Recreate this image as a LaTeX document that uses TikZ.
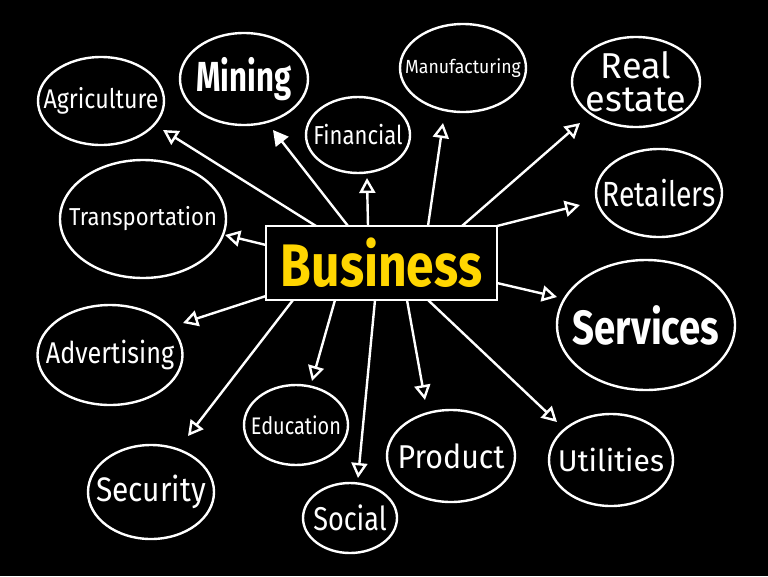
\documentclass[tikz,border=0pt]{standalone}
\usepackage{fontspec}
\usepackage{graphicx}
\setmainfont{Fira Sans}
\usetikzlibrary{shapes.geometric,arrows.meta}
\definecolor{bizyellow}{RGB}{255,214,0}
\newcommand{\lab}[3]{\scalebox{#2}[1]{\fontsize{#1}{#1}\selectfont #3}}
\begin{document}
\begin{tikzpicture}[x=1pt,y=-1pt,
  bubble/.style={draw=white, line width=2.4pt, ellipse, inner sep=0pt, outer sep=0pt},
  lbl/.style={text=white, inner sep=0pt, align=center},
  link/.style={draw=white, line width=2.4pt, -{Triangle[open,length=15pt,width=16pt]}},
  linkfull/.style={draw=white, line width=2.4pt, -{Triangle[length=15pt,width=16pt]}},
  bizbox/.style={draw=white, line width=2.4pt, fill=black, minimum width=231pt, minimum height=74pt, inner sep=0pt, outer sep=0pt, text=bizyellow}
]
\fill[black] (0,0) rectangle (768,576);
\useasboundingbox (0,0) rectangle (768,576);

% bubbles
\node[bubble, minimum width=126pt, minimum height=88pt, label={[lbl]center:\lab{27}{0.86}{Agriculture}}] (agri) at (101,101) {};
\node[bubble, minimum width=128pt, minimum height=92pt, label={[lbl,font=\bfseries]center:\lab{42}{0.74}{Mining}}] (mining) at (244,79) {};
\node[bubble, minimum width=104pt, minimum height=76pt, label={[lbl]center:\lab{26}{0.85}{Financial}}] (fin) at (358,135) {};
\node[bubble, minimum width=126pt, minimum height=88pt, label={[lbl]center:\lab{19}{0.93}{Manufacturing}}] (manu) at (463,68) {};
\node[bubble, minimum width=128pt, minimum height=90pt, label={[lbl,font=\fontsize{36}{33}\selectfont]center:Real\\estate}] (real) at (636,82) {};
\node[bubble, minimum width=126pt, minimum height=88pt, label={[lbl]center:\lab{35}{0.81}{Retailers}}] (retail) at (659,193) {};
\node[bubble, minimum width=166pt, minimum height=118pt, label={[lbl]center:\lab{24.5}{0.9}{Transportation}}] (trans) at (143,219) {};
\node[bubble, minimum width=178pt, minimum height=130pt, label={[lbl,font=\bfseries]center:\lab{48}{0.8}{Services}}] (serv) at (646,325) {};
\node[bubble, minimum width=145pt, minimum height=100pt, label={[lbl]center:\lab{30}{0.84}{Advertising}}] (adv) at (110,355) {};
\node[bubble, minimum width=104pt, minimum height=80pt, label={[lbl]center:\lab{24}{0.83}{Education}}] (edu) at (296,425) {};
\node[bubble, minimum width=128pt, minimum height=92pt, label={[lbl]center:\lab{33}{0.92}{Product}}] (prod) at (451,456) {};
\node[bubble, minimum width=124pt, minimum height=92pt, label={[lbl]center:\lab{30}{1.0}{Utilities}}] (util) at (611,460) {};
\node[bubble, minimum width=126pt, minimum height=94pt, label={[lbl]center:\lab{34}{0.88}{Security}}] (sec) at (151,492) {};
\node[bubble, minimum width=94pt, minimum height=70pt, label={[lbl]center:\lab{33}{0.82}{Social}}] (soc) at (350,518) {};

% central box
\node[bizbox, font=\bfseries] (biz) at (381.5,263) {\lab{60}{0.83}{Business}};

% arrow tips
\coordinate (tAgri) at (163,130);
\coordinate (tMining) at (273,130);
\coordinate (tFin) at (367,178);
\coordinate (tManu) at (443,123);
\coordinate (tReal) at (580,123);
\coordinate (tRetail) at (580,205);
\coordinate (tTrans) at (225,235);
\coordinate (tServ) at (557,297);
\coordinate (tAdv) at (183,323);
\coordinate (tSec) at (188,436);
\coordinate (tEdu) at (312,381);
\coordinate (tSoc) at (358,478);
\coordinate (tProd) at (425,400);
\coordinate (tUtil) at (557,422);

% connectors
\draw[link] ([xshift=50pt]biz.north west) -- (tAgri);
\draw[linkfull] ([xshift=82pt]biz.north west) -- (tMining);
\draw[link] ([xshift=102pt]biz.north west) -- (tFin);
\draw[link] ([xshift=162pt]biz.north west) -- (tManu);
\draw[link] ([xshift=196pt]biz.north west) -- (tReal);
\draw[link] (biz.north east) -- (tRetail);
\draw[link] ([yshift=17pt]biz.south east) -- (tServ);
\draw[link] ([yshift=-19pt]biz.north west) -- (tTrans);
\draw[link] ([yshift=4pt]biz.south west) -- (tAdv);
\draw[link] ([xshift=27pt]biz.south west) -- (tSec);
\draw[link] ([xshift=69pt]biz.south west) -- (tEdu);
\draw[link] ([xshift=109pt]biz.south west) -- (tSoc);
\draw[link] ([xshift=141pt]biz.south west) -- (tProd);
\draw[link] ([xshift=162pt]biz.south west) -- (tUtil);
\end{tikzpicture}
\end{document}
